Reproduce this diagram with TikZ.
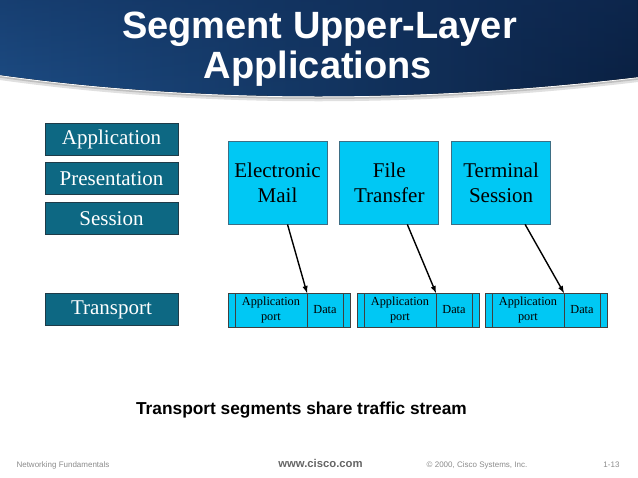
\documentclass[tikz,border=0pt]{standalone}
\usepackage{fontspec}
\setmainfont{Liberation Serif}
\setsansfont{Liberation Sans}
\usepackage{tikz}
\usetikzlibrary{
    arrows,
    fadings,
    positioning
}
\definecolor{bannernavy}{HTML}{0A1F40}
\definecolor{bannertop}{HTML}{102E5A}
\definecolor{bannerblue}{HTML}{1D4D85}
\definecolor{bannerteal}{HTML}{22A8CC}
\definecolor{layerfill}{HTML}{0D6883}
\definecolor{layerline}{HTML}{1E3B48}
\definecolor{appfill}{HTML}{00C8F4}
\definecolor{appline}{HTML}{3D6E84}
\tikzset{
    layerbox/.style={draw=layerline, fill=layerfill, line width=0.8pt, text=white,
        minimum width=133pt, minimum height=32pt, inner sep=0pt,
        font=\fontsize{21}{21}\selectfont},
    appbox/.style={draw=appline, fill=appfill, line width=0.8pt, align=center,
        minimum width=99pt, minimum height=83pt, inner sep=0pt,
        font=\fontsize{21}{25}\selectfont},
    segcell/.style={draw=black!75, fill=appfill, line width=0.6pt, align=center,
        minimum height=34pt, inner sep=0pt, outer sep=0pt,
        font=\fontsize{12.3}{15}\selectfont},
    segarrow/.style={-latex, line width=1.4pt},
    titletext/.style={text=white, font=\sffamily\bfseries\fontsize{38}{38}\selectfont},
    foottext/.style={text=black!45, font=\sffamily\fontsize{8}{8}\selectfont}
}

\begin{document}
\begin{tikzpicture}[x=1pt, y=-1pt]
    \useasboundingbox (0,0) rectangle (638,478);
    \fill[white] (0,0) rectangle (638,478);

    \draw[black!12, line width=4pt] (0,78) .. controls (200,106) and (420,106) .. (638,80);
    \draw[black!25, line width=1.5pt] (0,77) .. controls (200,105) and (420,105) .. (638,79);
    \fill[left color=bannerblue, middle color=bannerteal, right color=bannernavy]
        (0,0) -- (638,0) -- (638,77) .. controls (420,103) and (200,103) .. (0,75) -- cycle;
    \fill[bannertop, path fading=south, fill opacity=0.45]
        (0,0) -- (638,0) -- (638,77) .. controls (420,103) and (200,103) .. (0,75) -- cycle;

    \node[titletext, anchor=base] (title1) at (319.5,39) {Segment Upper-Layer};
    \node[titletext, anchor=base] (title2) at (318,79) {Applications};

    \node[layerbox] (application) at (111.5,139) {Application};
    \node[layerbox, below=7pt of application] (presentation) {Presentation};
    \node[layerbox, below=7pt of presentation] (session) {Session};
    \node[layerbox] (transport) at (111.5,309.5) {Transport};

    \node[appbox] (email) at (277.5,182.5) {Electronic\\Mail};
    \node[appbox, right=12pt of email] (filexfer) {File\\Transfer};
    \node[appbox, right=12pt of filexfer] (terminal) {Terminal\\Session};

    \node[segcell, minimum width=7pt, anchor=north west] (capa1) at (228,293) {};
    \node[segcell, minimum width=72pt, right=0pt of capa1] (port1) {Application\\port};
    \node[segcell, minimum width=36pt, right=0pt of port1] (data1) {Data};
    \node[segcell, minimum width=7pt, right=0pt of data1] (capb1) {};

    \node[segcell, minimum width=7pt, anchor=north west] (capa2) at (357,293) {};
    \node[segcell, minimum width=72pt, right=0pt of capa2] (port2) {Application\\port};
    \node[segcell, minimum width=36pt, right=0pt of port2] (data2) {Data};
    \node[segcell, minimum width=7pt, right=0pt of data2] (capb2) {};

    \node[segcell, minimum width=7pt, anchor=north west] (capa3) at (485,293) {};
    \node[segcell, minimum width=72pt, right=0pt of capa3] (port3) {Application\\port};
    \node[segcell, minimum width=36pt, right=0pt of port3] (data3) {Data};
    \node[segcell, minimum width=7pt, right=0pt of data3] (capb3) {};

    \draw[segarrow] ([xshift=10pt]email.south) -- (data1.north west);
    \draw[segarrow] ([xshift=18pt]filexfer.south) -- (data2.north west);
    \draw[segarrow] ([xshift=24pt]terminal.south) -- (data3.north west);

    \node[anchor=base, font=\sffamily\bfseries\fontsize{17.3}{17.3}\selectfont] (caption)
        at (301.5,415) {Transport segments share traffic stream};

    \node[foottext, anchor=base west] (course) at (13,468) {Networking Fundamentals};
    \node[anchor=base, text=black!60, font=\sffamily\bfseries\fontsize{11.3}{11.3}\selectfont] (site)
        at (320.5,468) {www.cisco.com};
    \node[foottext, anchor=base] (copyright) at (477,468) {\textcopyright{} 2000, Cisco Systems, Inc.};
    \node[foottext, anchor=base] (pagenum) at (611.5,468) {1-13};
\end{tikzpicture}
\end{document}
